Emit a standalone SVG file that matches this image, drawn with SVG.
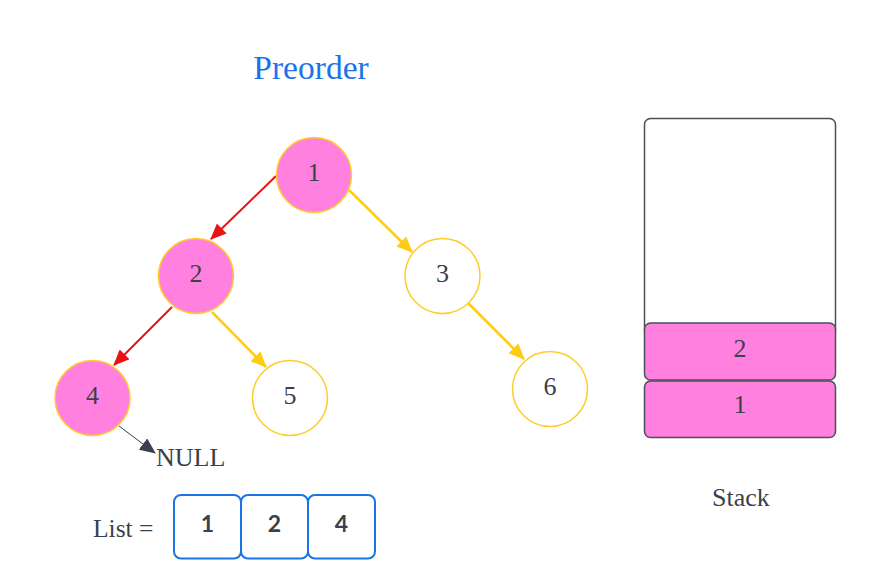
<svg xmlns="http://www.w3.org/2000/svg" width="880" height="575" viewBox="0 0 880 575">
<defs>
<style>
.t{font-family:"Liberation Serif","Times New Roman",serif;fill:#3a414a;}
.node-p{fill:#ff80df;stroke:#ffcd29;stroke-width:1.5;}
.node-w{fill:#ffffff;stroke:#ffcd29;stroke-width:1.5;}
.lbl{font-size:26px;text-anchor:middle;}
.red{stroke:#e81313;stroke-width:2;fill:none;}
.yel{stroke:#ffcc12;stroke-width:2.5;fill:none;}
.gry{stroke:#3a414a;stroke-width:1;fill:none;}
.stk{stroke:#4a5058;stroke-width:1.5;}
.lst{fill:#ffffff;stroke:#1a73e8;stroke-width:2;}
.b{font-family:Lato,"Liberation Sans",sans-serif;font-weight:bold;font-size:23px;text-anchor:middle;fill:#3a414a;}
</style>
<marker id="ar" viewBox="0 0 16 14" markerWidth="16" markerHeight="14" refX="15" refY="7" orient="auto" markerUnits="userSpaceOnUse"><path d="M0,0 L16,7 L0,14 z" fill="#e81313"/></marker>
<marker id="ay" viewBox="0 0 16 14" markerWidth="16" markerHeight="14" refX="15" refY="7" orient="auto" markerUnits="userSpaceOnUse"><path d="M0,0 L16,7 L0,14 z" fill="#ffcc12"/></marker>
<marker id="ag" viewBox="0 0 16 14" markerWidth="16" markerHeight="14" refX="15" refY="7" orient="auto" markerUnits="userSpaceOnUse"><path d="M0,0 L16,7 L0,14 z" fill="#3a414a"/></marker>
</defs>
<rect width="880" height="575" fill="#ffffff"/>
<text x="311" y="79" font-family="Liberation Serif,serif" font-size="33.5" fill="#1a73e8" text-anchor="middle">Preorder</text>
<g id="connectors">
<line class="red" x1="276" y1="176" x2="211" y2="239" marker-end="url(#ar)"/>
<line class="red" x1="172" y1="307" x2="114" y2="365" marker-end="url(#ar)"/>
<line class="yel" x1="212" y1="312" x2="266" y2="367" marker-end="url(#ay)"/>
<line class="yel" x1="349" y1="190" x2="412" y2="252" marker-end="url(#ay)"/>
<line class="yel" x1="468" y1="303" x2="524" y2="359" marker-end="url(#ay)"/>
<line class="gry" x1="119" y1="426" x2="155" y2="453" marker-end="url(#ag)"/>
</g>
<g id="node1"><circle class="node-p" cx="314" cy="175" r="37.5"/><text class="t lbl" x="314" y="181">1</text></g>
<g id="node2"><circle class="node-p" cx="196" cy="276" r="37.5"/><text class="t lbl" x="196" y="282">2</text></g>
<g id="node3"><circle class="node-w" cx="442.5" cy="276" r="37.5"/><text class="t lbl" x="442.5" y="282">3</text></g>
<g id="node4"><circle class="node-p" cx="92.5" cy="398" r="37.5"/><text class="t lbl" x="92.5" y="404">4</text></g>
<g id="node5"><circle class="node-w" cx="290" cy="398" r="37.5"/><text class="t lbl" x="290" y="404">5</text></g>
<g id="node6"><circle class="node-w" cx="550" cy="389" r="37.5"/><text class="t lbl" x="550" y="395">6</text></g>
<g id="null"><text class="t" x="156" y="466" font-size="26">NULL</text></g>
<g id="stack">
<rect class="stk" x="644.5" y="118.5" width="191" height="218" rx="6" fill="#ffffff"/>
<rect class="stk" x="644.5" y="323" width="191" height="57" rx="6" fill="#ff80df"/>
<rect class="stk" x="644.5" y="381" width="191" height="56.5" rx="6" fill="#ff80df"/>
<text class="t lbl" x="740" y="357">2</text>
<text class="t lbl" x="740" y="413">1</text>
<text class="t" x="741" y="506" font-size="26" text-anchor="middle">Stack</text>
</g>
<g id="list">
<text class="t" x="93" y="537" font-size="25.5">List =</text>
<rect class="lst" x="174" y="495" width="67" height="63.5" rx="7"/>
<rect class="lst" x="241" y="495" width="67" height="63.5" rx="7"/>
<rect class="lst" x="308" y="495" width="67" height="63.5" rx="7"/>
<text class="b" x="207.5" y="532">1</text>
<text class="b" x="274.5" y="532">2</text>
<text class="b" x="341.5" y="532">4</text>
</g>
</svg>
